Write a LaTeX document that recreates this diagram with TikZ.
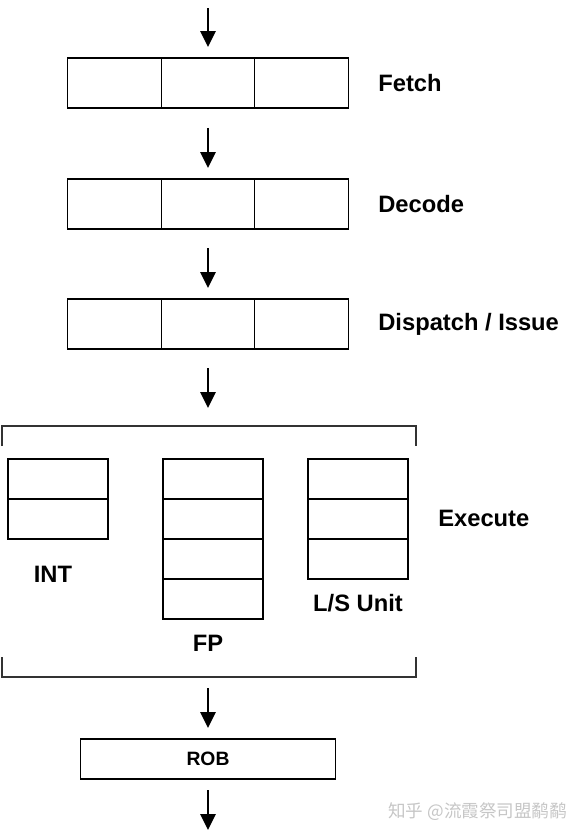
\documentclass[tikz,border=0pt]{standalone}
\usepackage{fontspec}
\setmainfont{Liberation Sans}
\newfontfamily\cjk{Noto Sans CJK SC}
\usetikzlibrary{arrows.meta,positioning}
\tikzset{
  cell/.style   ={rectangle, draw=black, line width=0.6pt, outer sep=0pt, inner sep=0pt,
                  minimum width=1.87cm, minimum height=1cm},
  ucell/.style  ={cell, minimum width=2cm, minimum height=0.8cm},
  robbox/.style ={cell, minimum width=5.1cm, minimum height=0.8cm,
                  font=\bfseries\fontsize{11}{13}\selectfont},
  stagelbl/.style={anchor=west, inner sep=0pt, font=\bfseries\fontsize{13.5}{16}\selectfont},
  unitlbl/.style ={inner sep=0pt, font=\bfseries\fontsize{13.5}{16}\selectfont},
  flow/.style   ={-{Triangle[length=3.2mm, width=3mm]}, line width=1.6pt},
  bracket/.style={line width=0.9pt, black!80},
  wmark/.style  ={font=\cjk\fontsize{10}{12}\selectfont, gray!45, inner sep=0pt},
}
\begin{document}
\begin{tikzpicture}[x=0.02cm, y=-0.02cm]
  \useasboundingbox (0,0) rectangle (581,839);
  % pipeline stages
  \node[cell] (f2) at (208,83) {};
  \node[cell, left=0pt of f2]  (f1) {};
  \node[cell, right=0pt of f2] (f3) {};
  \node[stagelbl] (fl) at (378,83) {Fetch};
  \node[cell] (d2) at (208,204) {};
  \node[cell, left=0pt of d2]  (d1) {};
  \node[cell, right=0pt of d2] (d3) {};
  \node[stagelbl] (dl) at (378,204) {Decode};
  \node[cell] (s2) at (208,324) {};
  \node[cell, left=0pt of s2]  (s1) {};
  \node[cell, right=0pt of s2] (s3) {};
  \node[stagelbl] (sl) at (378,324) {Dispatch / Issue};
  % execute units
  \node[ucell] (i1) at (58,479) {};
  \node[ucell, below=0pt of i1] (i2) {};
  \node[unitlbl] (il) at (53,574) {INT};
  \node[ucell] (p1) at (213,479) {};
  \node[ucell, below=0pt of p1] (p2) {};
  \node[ucell, below=0pt of p2] (p3) {};
  \node[ucell, below=0pt of p3] (p4) {};
  \node[unitlbl] (pl) at (208,643) {FP};
  \node[ucell] (m1) at (358,479) {};
  \node[ucell, below=0pt of m1] (m2) {};
  \node[ucell, below=0pt of m2] (m3) {};
  \node[unitlbl] (ml) at (358,603) {L/S Unit};
  \node[stagelbl] (el) at (438,518) {Execute};
  % bracket round execute
  \coordinate (extop) at (208,426);
  \coordinate (exbot) at (208,677);
  \draw[bracket] (2,446) -- (2,426) -- (416,426) -- (416,446);
  \draw[bracket] (2,657) -- (2,677) -- (416,677) -- (416,657);
  \node[robbox] (rob) at (208,759) {ROB};
  \coordinate (in)  at (208,8);
  \coordinate (out) at (208,830);
  % flow
  \draw[flow] (in) -- ([yshift=11*0.02cm]f2.north);
  \draw[flow] ([yshift=-20*0.02cm]f2.south) -- ([yshift=11*0.02cm]d2.north);
  \draw[flow] ([yshift=-19*0.02cm]d2.south) -- ([yshift=11*0.02cm]s2.north);
  \draw[flow] ([yshift=-19*0.02cm]s2.south) -- ([yshift=18*0.02cm]extop);
  \draw[flow] ([yshift=-11*0.02cm]exbot) -- ([yshift=11*0.02cm]rob.north);
  \draw[flow] ([yshift=-11*0.02cm]rob.south) -- (out);
  \node[wmark, anchor=west] (wm) at (388,812) {知乎 @流霞祭司盟鹬鹬};
\end{tikzpicture}
\end{document}
